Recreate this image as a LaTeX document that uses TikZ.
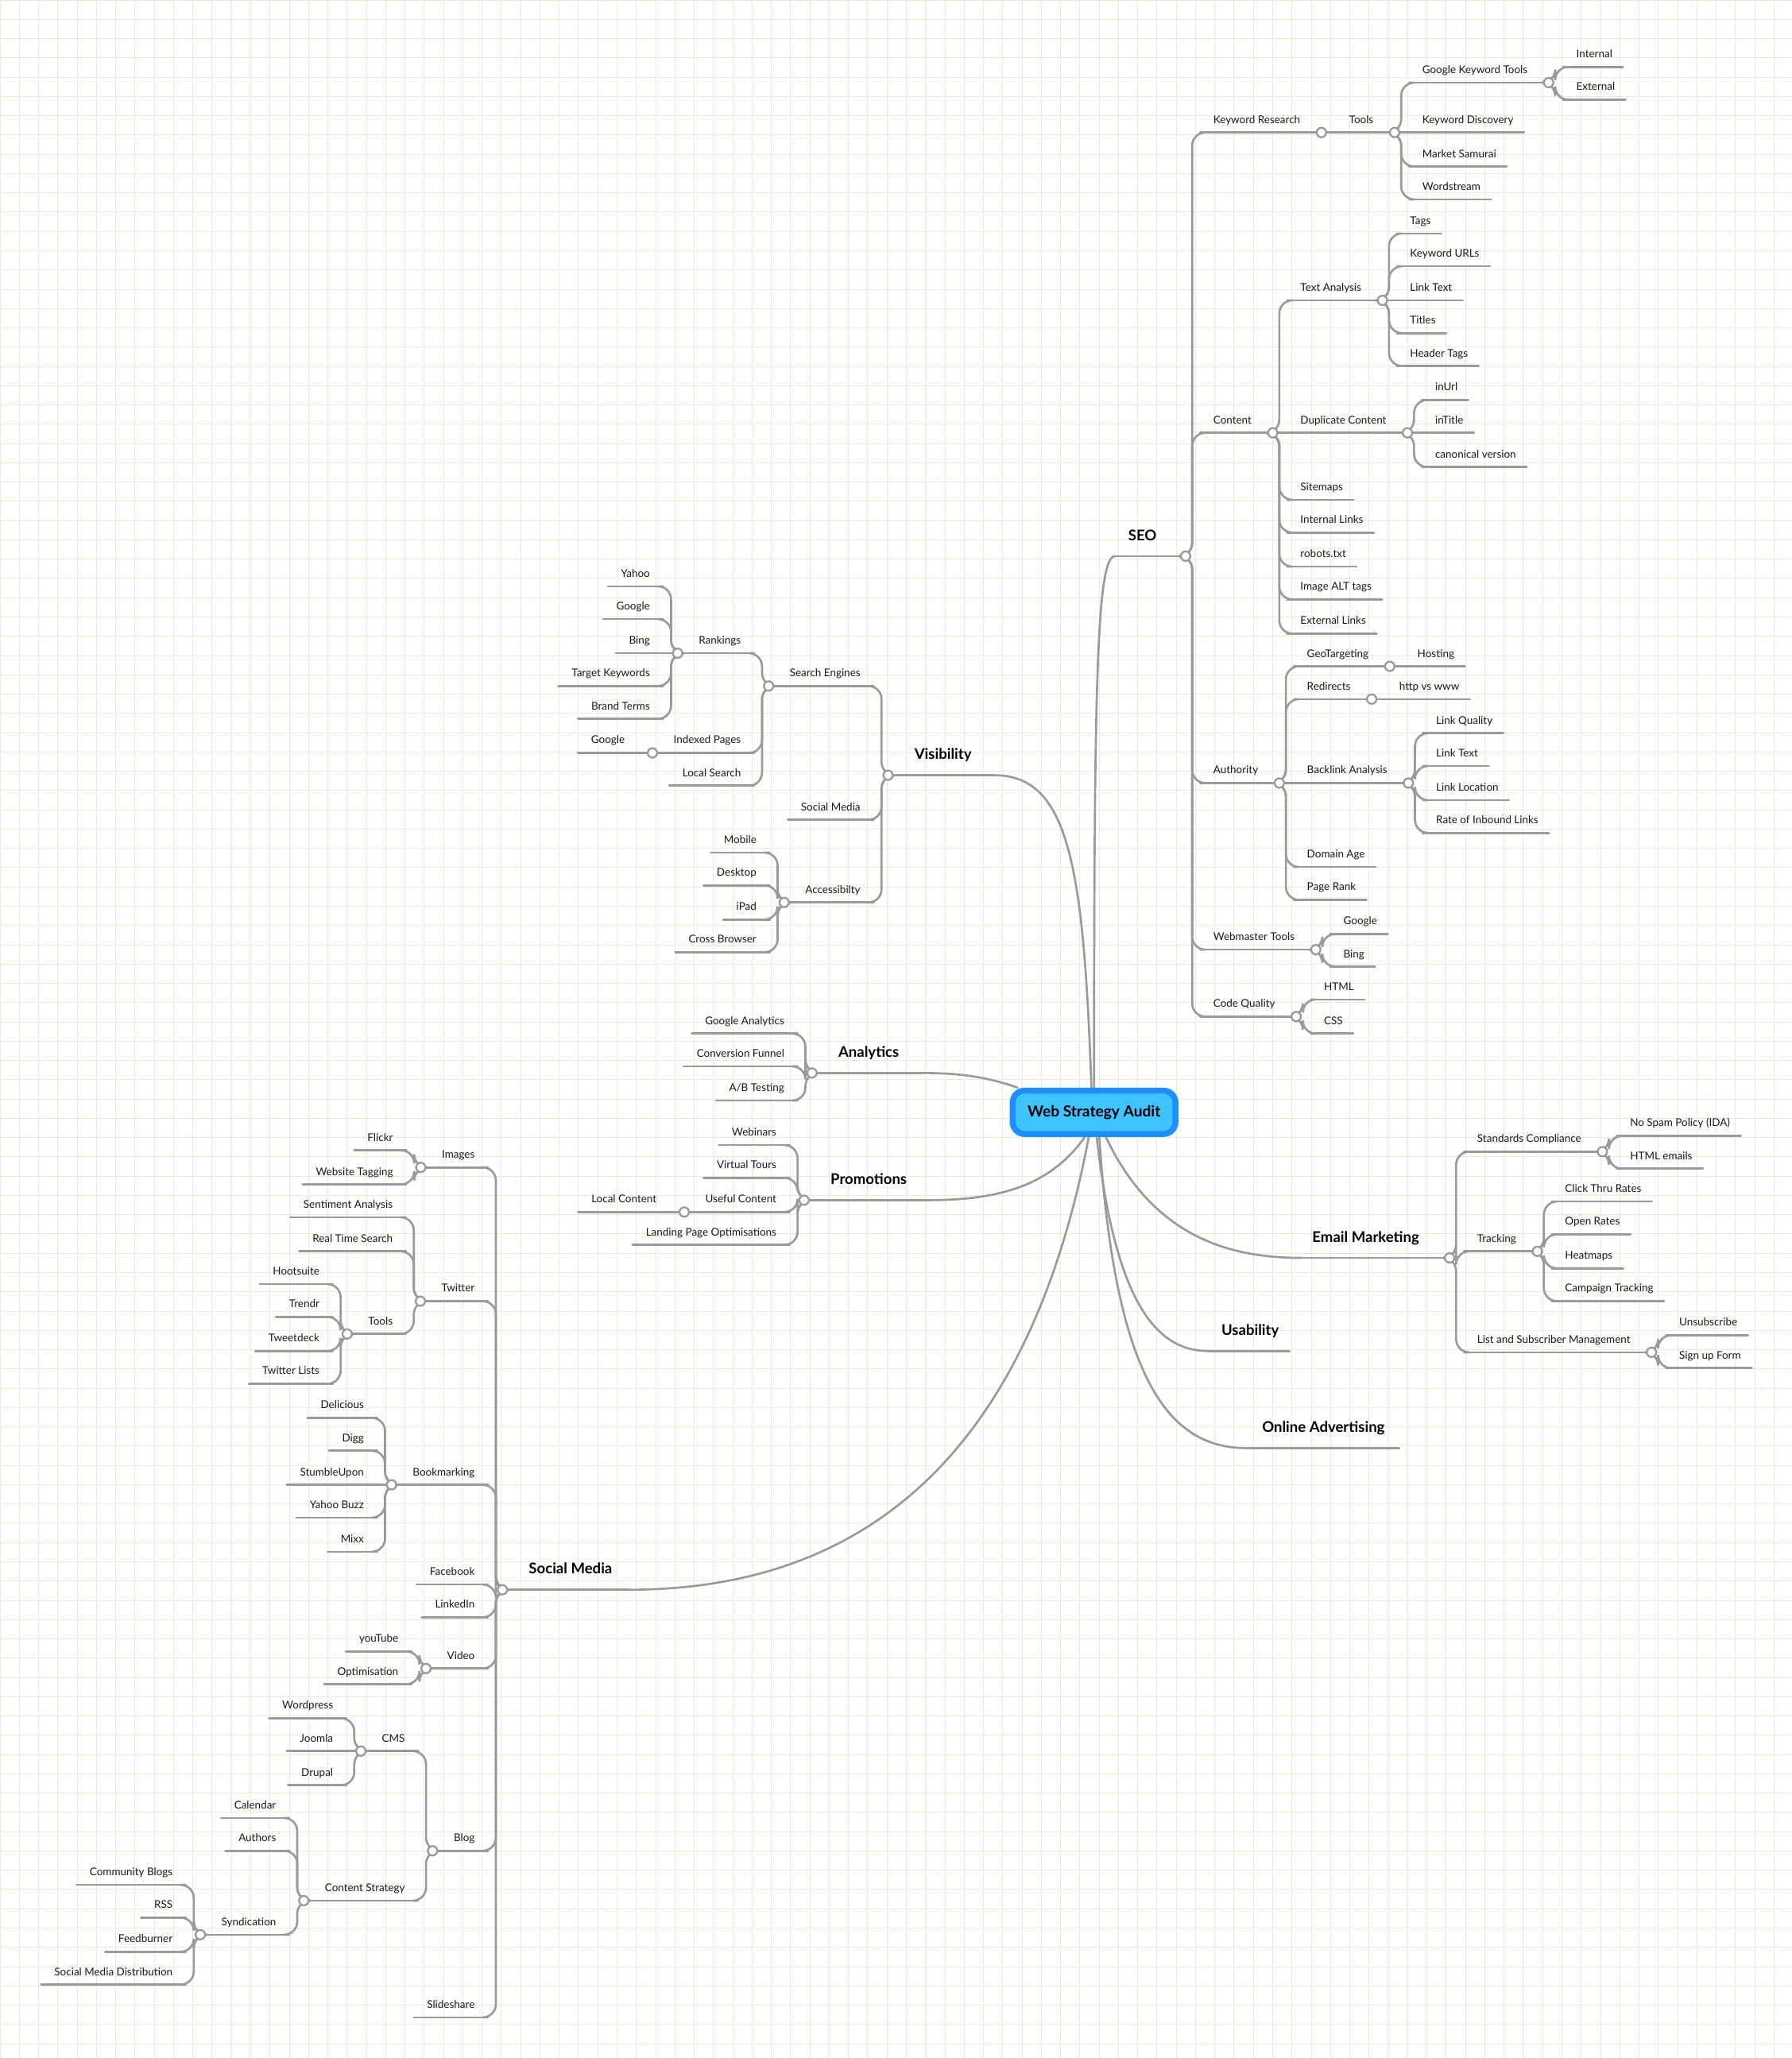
\documentclass[tikz,border=0pt]{standalone}
\usepackage{fontspec}
\setmainfont{Lato}
\usetikzlibrary{calc}
\definecolor{linec}{HTML}{9A9A9A}
\definecolor{gridc}{HTML}{E6EEDB}
\definecolor{boxfill}{HTML}{40C4FF}
\definecolor{boxdraw}{HTML}{1E8FFF}
\tikzset{
 lbl/.style={inner sep=0pt,text=black!90,font=\fontsize{11.6}{14}\selectfont},
 mainlbl/.style={inner sep=0pt,text=black,font=\fontsize{16}{19}\selectfont\bfseries},
 br/.style={draw=linec,line width=2.3pt,line cap=round},
 conn/.style={draw=linec,line width=2.3pt,rounded corners=0.5cm},
 circ/.style={draw=linec,fill=white,line width=2pt}
}
\newcommand{\RN}[5][8]{%
 \node[lbl,anchor=base west] (#2) at ($(#3 |- 0,#4)+(21,-7)$) {#5};
 \coordinate (#2-a) at ($(#3 |- 0,#4)+(11,0)$);
 \coordinate (#2-b) at ($(#2.base east)+(#1,7)$);
 \draw[br] (#2-a) -- (#2-b);
 \draw[conn] (#3) -- ++(5,0) |- (#2-a);
}
\newcommand{\RS}[4][8]{%
 \node[lbl,anchor=base west] (#2) at ($(#3)+(21,-7)$) {#4};
 \coordinate (#2-a) at (#3);
 \coordinate (#2-b) at ($(#2.base east)+(#1,7)$);
 \draw[br] (#2-a) -- (#2-b);
}
\newcommand{\LN}[5][10]{%
 \node[lbl,anchor=base east] (#2) at ($(#3 |- 0,#4)+(-21,-7)$) {#5};
 \coordinate (#2-a) at ($(#3 |- 0,#4)+(-11,0)$);
 \coordinate (#2-b) at ($(#2.base west)+(-#1,7)$);
 \draw[br] (#2-a) -- (#2-b);
 \draw[conn] (#3) -- ++(-5,0) |- (#2-a);
}
\newcommand{\LS}[4][10]{%
 \node[lbl,anchor=base east] (#2) at ($(#3)+(-21,-7)$) {#4};
 \coordinate (#2-a) at (#3);
 \coordinate (#2-b) at ($(#2.base west)+(-#1,7)$);
 \draw[br] (#2-a) -- (#2-b);
}
\newcommand{\CI}[1]{\draw[circ] (#1) circle[radius=0.18cm];}
\begin{document}
\begin{tikzpicture}[x=0.05cm,y=-0.05cm]
\useasboundingbox (0,0) rectangle (1366,1569);
\fill[white] (0,0) rectangle (1366,1569);
\draw[gridc,line width=0.8pt,step=0.735cm] (0,0) grid (1366,1569);

\tikzset{cbox/.style={draw=boxdraw,fill=boxfill,line width=6.5pt,rounded corners=0.45cm,minimum width=6.2cm,minimum height=1.65cm,font=\fontsize{16.5}{19}\selectfont\bfseries}}
\path node[cbox,draw=none,fill=none,text=white!0] (c) at (834,848) {\phantom{Web Strategy Audit}};

% ---- main branches ----
\node[mainlbl,anchor=base west] (seo) at (860,412) {SEO};
\coordinate (seo-a) at (850,424);
\coordinate (seo-b) at ($(seo.base east)+(22,12)$);
\draw[br] (seo-a) -- (seo-b);
\draw[br] (c.north) .. controls (834,520) and (836,424) .. (seo-a);

\node[mainlbl,anchor=base west] (vis) at (697,579) {Visibility};
\coordinate (vis-b) at (677,591);
\coordinate (vis-a) at ($(vis.base east)+(17,12)$);
\draw[br] (vis-b) -- (vis-a);
\draw[br] ([xshift=-0.1cm]c.north) .. controls (826,660) and (815,591) .. (vis-a);

\node[mainlbl,anchor=base west] (an) at (639,806) {Analytics};
\coordinate (an-b) at (619,818);
\coordinate (an-a) at ($(an.base east)+(17,12)$);
\draw[br] (an-b) -- (an-a);
\draw[br] ([xshift=0.3cm]c.north west) .. controls (755,822) and (735,818) .. (an-a);

\node[mainlbl,anchor=base west] (pm) at (633,903) {Promotions};
\coordinate (pm-b) at (613,915);
\coordinate (pm-a) at ($(pm.base east)+(15,12)$);
\draw[br] (pm-b) -- (pm-a);
\draw[br] ([xshift=-0.35cm]c.south) .. controls (800,905) and (760,915) .. (pm-a);

\node[mainlbl,anchor=base west] (soc) at (403,1200) {Social Media};
\coordinate (soc-b) at (383,1212);
\coordinate (soc-a) at ($(soc.base east)+(12,12)$);
\draw[br] (soc-b) -- (soc-a);
\draw[br] ([xshift=-0.2cm]c.south) .. controls (780,1130) and (640,1212) .. (soc-a);

\node[mainlbl,anchor=base east] (em) at (1082,947) {Email Marketing};
\coordinate (em-b) at (1105,959);
\coordinate (em-a) at ($(em.base west)+(-8,12)$);
\draw[br] (em-a) -- (em-b);
\draw[br] ([xshift=0.45cm]c.south) .. controls (880,945) and (940,959) .. (em-a);

\node[mainlbl,anchor=base west] (us) at (931,1018) {Usability};
\coordinate (us-a) at (921,1030);
\coordinate (us-b) at ($(us.base east)+(8,12)$);
\draw[br] (us-a) -- (us-b);
\draw[br] ([xshift=0.1cm]c.south) .. controls (850,990) and (880,1030) .. (us-a);

\node[mainlbl,anchor=base west] (oa) at (962,1092) {Online Advertising};
\coordinate (oa-a) at (950,1104);
\coordinate (oa-b) at ($(oa.base east)+(11,12)$);
\draw[br] (oa-a) -- (oa-b);
\draw[br] ([xshift=0.2cm]c.south) .. controls (850,1050) and (890,1104) .. (oa-a);

% ---- SEO ----
\RN[16]{kr}{seo-b}{101}{Keyword Research}
\RS[16]{tl}{kr-b}{Tools}
\RN[16]{gkt}{tl-b}{63}{Google Keyword Tools}
\RN{int}{gkt-b}{51}{Internal}
\RN{ext}{gkt-b}{76}{External}
\RS{kd}{tl-b}{Keyword Discovery}
\RN{ms}{tl-b}{127}{Market Samurai}
\RN{ws}{tl-b}{152}{Wordstream}
\RN[16]{ct}{seo-b}{330}{Content}
\RN[16]{ta}{ct-b}{229}{Text Analysis}
\RN{tags}{ta-b}{178}{Tags}
\RN{kurl}{ta-b}{203}{Keyword URLs}
\RS{ltx}{ta-b}{Link Text}
\RN{tit}{ta-b}{254}{Titles}
\RN{ht}{ta-b}{279}{Header Tags}
\RS[16]{dc}{ct-b}{Duplicate Content}
\RN{inurl}{dc-b}{305}{inUrl}
\RS{intitle}{dc-b}{inTitle}
\RN{canon}{dc-b}{356}{canonical version}
\RN{sm}{ct-b}{381}{Sitemaps}
\RN{il}{ct-b}{406}{Internal Links}
\RN{rob}{ct-b}{432}{robots.txt}
\RN{alt}{ct-b}{457}{Image ALT tags}
\RN{el}{ct-b}{483}{External Links}
\RN[16]{au}{seo-b}{597}{Authority}
\RN[16]{geo}{au-b}{508}{GeoTargeting}
\RS{host}{geo-b}{Hosting}
\RN[16]{red}{au-b}{533}{Redirects}
\RS{http}{red-b}{http vs www}
\RS[16]{ba}{au-b}{Backlink Analysis}
\RN{lq}{ba-b}{559}{Link Quality}
\RN{lt2}{ba-b}{584}{Link Text}
\RN{ll}{ba-b}{610}{Link Location}
\RN{rib}{ba-b}{635}{Rate of Inbound Links}
\RN{da}{au-b}{661}{Domain Age}
\RN{pr}{au-b}{686}{Page Rank}
\RN[16]{wt}{seo-b}{724}{Webmaster Tools}
\RN{wg}{wt-b}{712}{Google}
\RN{wb}{wt-b}{737}{Bing}
\RN[16]{cq}{seo-b}{775}{Code Quality}
\RN{html}{cq-b}{762}{HTML}
\RN{css}{cq-b}{788}{CSS}

% ---- Visibility ----
\LN[16]{se}{vis-b}{523}{Search Engines}
\LN[16]{rk}{se-b}{498}{Rankings}
\LN{yh}{rk-b}{447}{Yahoo}
\LN{gg}{rk-b}{472}{Google}
\LS{bg}{rk-b}{Bing}
\LN{tk}{rk-b}{523}{Target Keywords}
\LN{bt}{rk-b}{548}{Brand Terms}
\LN[16]{ip}{se-b}{574}{Indexed Pages}
\LS{ipg}{ip-b}{Google}
\LN{ls}{se-b}{599}{Local Search}
\LN{smv}{vis-b}{625}{Social Media}
\LN[16]{acc}{vis-b}{688}{Accessibilty}
\LN{mob}{acc-b}{650}{Mobile}
\LN{desk}{acc-b}{675}{Desktop}
\LN{ipad}{acc-b}{701}{iPad}
\LN{cb}{acc-b}{726}{Cross Browser}

% ---- Analytics ----
\LN{ga}{an-b}{788}{Google Analytics}
\LN{cf}{an-b}{813}{Conversion Funnel}
\LN{ab}{an-b}{839}{A/B Testing}

% ---- Promotions ----
\LN{web}{pm-b}{873}{Webinars}
\LN{vt}{pm-b}{898}{Virtual Tours}
\LN[16]{uc}{pm-b}{924}{Useful Content}
\LS{lc}{uc-b}{Local Content}
\LN{lpo}{pm-b}{949}{Landing Page Optimisations}

% ---- Social Media ----
\LN[16]{img}{soc-b}{890}{Images}
\LN{fl}{img-b}{877}{Flickr}
\LN{wtg}{img-b}{903}{Website Tagging}
\LN[16]{tw}{soc-b}{992}{Twitter}
\LN{sa}{tw-b}{928}{Sentiment Analysis}
\LN{rts}{tw-b}{954}{Real Time Search}
\LN[16]{twt}{tw-b}{1017}{Tools}
\LN{hs}{twt-b}{979}{Hootsuite}
\LN{tr}{twt-b}{1004}{Trendr}
\LN{td}{twt-b}{1030}{Tweetdeck}
\LN{tls}{twt-b}{1055}{Twitter Lists}
\LN[16]{bm}{soc-b}{1132}{Bookmarking}
\LN{del}{bm-b}{1081}{Delicious}
\LN{digg}{bm-b}{1106}{Digg}
\LS{su}{bm-b}{StumbleUpon}
\LN{yb}{bm-b}{1157}{Yahoo Buzz}
\LN{mixx}{bm-b}{1183}{Mixx}
\LN{fb}{soc-b}{1208}{Facebook}
\LN{li}{soc-b}{1233}{LinkedIn}
\LN[16]{vid}{soc-b}{1272}{Video}
\LN{yt}{vid-b}{1259}{youTube}
\LN{opt}{vid-b}{1284}{Optimisation}
\LN[16]{blog}{soc-b}{1411}{Blog}
\LN[16]{cms}{blog-b}{1335}{CMS}
\LN{wp}{cms-b}{1310}{Wordpress}
\LS{jo}{cms-b}{Joomla}
\LN{dr}{cms-b}{1361}{Drupal}
\LN[16]{cs}{blog-b}{1449}{Content Strategy}
\LN{cal}{cs-b}{1386}{Calendar}
\LN{auth}{cs-b}{1411}{Authors}
\LN[16]{syn}{cs-b}{1475}{Syndication}
\LN{cbl}{syn-b}{1437}{Community Blogs}
\LN{rss}{syn-b}{1462}{RSS}
\LN{fbn}{syn-b}{1488}{Feedburner}
\LN{smd}{syn-b}{1513}{Social Media Distribution}
\LN{ss}{soc-b}{1538}{Slideshare}

% ---- Email Marketing ----
\RN[16]{sc}{em-b}{878}{Standards Compliance}
\RN{nsp}{sc-b}{866}{No Spam Policy (IDA)}
\RN{hte}{sc-b}{891}{HTML emails}
\RN[16]{trk}{em-b}{954}{Tracking}
\RN{ctr}{trk-b}{916}{Click Thru Rates}
\RN{or}{trk-b}{941}{Open Rates}
\RN{hm}{trk-b}{967}{Heatmaps}
\RN{ctk}{trk-b}{992}{Campaign Tracking}
\RN[16]{lsm}{em-b}{1031}{List and Subscriber Management}
\RN{uns}{lsm-b}{1018}{Unsubscribe}
\RN{suf}{lsm-b}{1043}{Sign up Form}

% ---- circles ----
\foreach \n in {seo-b,vis-b,an-b,pm-b,soc-b,em-b,kr-b,tl-b,gkt-b,ct-b,ta-b,dc-b,au-b,geo-b,red-b,ba-b,wt-b,cq-b,se-b,rk-b,ip-b,acc-b,uc-b,img-b,tw-b,twt-b,bm-b,vid-b,blog-b,cms-b,cs-b,syn-b,sc-b,trk-b,lsm-b}{\CI{\n}}

% center node on top
\node[cbox] at (c) {Web Strategy Audit};
\end{tikzpicture}
\end{document}
